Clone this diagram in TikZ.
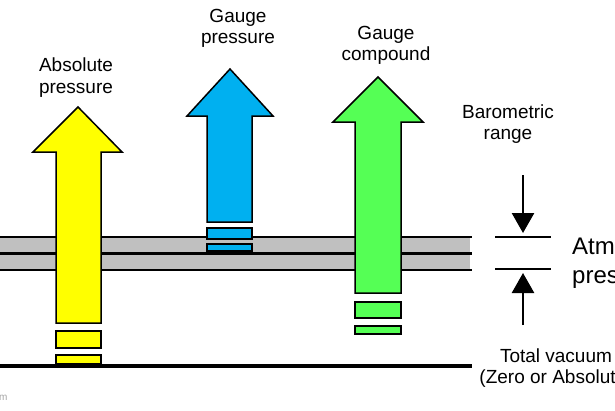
\documentclass[tikz,border=0pt]{standalone}
\usepackage{fontspec}
\setmainfont{Liberation Sans}
\usetikzlibrary{arrows.meta}
\definecolor{ayellow}{RGB}{255,255,0}
\definecolor{ablue}{RGB}{0,176,240}
\definecolor{agreen}{RGB}{85,255,85}
\definecolor{aband}{RGB}{192,192,192}
\tikzset{
  bigarrow/.style={draw=black, line width=1.5pt, line join=miter},
  bandline/.style={line width=2.6pt, black},
  lbl/.style={inner sep=0pt, align=center, font=\fontsize{19}{21.5}\selectfont},
  marker/.style={line width=2.6pt, black},
  rangearrow/.style={line width=2.6pt, -{Triangle[width=22pt,length=20pt]}}
}
\begin{document}
\begin{tikzpicture}[x=1pt,y=-1pt]
\useasboundingbox (0,0) rectangle (615,410);
\clip (0,0) rectangle (615,410);
% atmospheric band
\fill[aband] (0,237) rectangle (470,270);
\coordinate (b1l) at (0,237); \coordinate (b1r) at (472,237);
\coordinate (b2l) at (0,253.5); \coordinate (b2r) at (472,253.5);
\coordinate (b3l) at (0,270); \coordinate (b3r) at (472,270);
\draw[bandline] (b1l) -- (b1r);
\draw[bandline] (b2l) -- (b2r);
\draw[bandline] (b3l) -- (b3r);
% yellow: absolute pressure
\draw[bigarrow, fill=ayellow] (56,323) -- (56,152) -- (33,152) -- (78,107) -- (122,152) -- (101,152) -- (101,323) -- cycle;
\draw[bigarrow, fill=ayellow] (56,331) rectangle (101,348);
\draw[bigarrow, fill=ayellow] (56,355) rectangle (101,364);
% blue: gauge pressure
\draw[bigarrow, fill=ablue] (207,222) -- (207,116) -- (187,116) -- (230,69) -- (273,116) -- (252,116) -- (252,222) -- cycle;
\draw[bigarrow, fill=ablue] (207,228) rectangle (252,239);
\draw[bigarrow, fill=ablue] (207,244) rectangle (252,251);
% green: gauge compound
\draw[bigarrow, fill=agreen] (355,293) -- (355,122) -- (333,122) -- (378,77) -- (423,122) -- (401,122) -- (401,293) -- cycle;
\draw[bigarrow, fill=agreen] (355,302) rectangle (401,318);
\draw[bigarrow, fill=agreen] (355,326) rectangle (401,334);
% total vacuum line
\coordinate (vl) at (0,366); \coordinate (vr) at (472,366);
\draw[line width=4pt] (vl) -- (vr);
% barometric range markers
\coordinate (m1l) at (495,237); \coordinate (m1r) at (551,237);
\coordinate (m2l) at (495,269); \coordinate (m2r) at (551,269);
\draw[marker] (m1l) -- (m1r);
\draw[marker] (m2l) -- (m2r);
\coordinate (dtop) at (523,175); \coordinate (dtip) at (523,233);
\coordinate (ubot) at (523,325); \coordinate (utip) at (523,273);
\draw[rangearrow] (dtop) -- (dtip);
\draw[rangearrow] (ubot) -- (utip);
% labels (base anchor = baseline of last line)
\node[lbl, anchor=base] (labs) at (76,93) {Absolute\\pressure};
\node[lbl, anchor=base] (lgp) at (238,43.5) {Gauge\\pressure};
\node[lbl, anchor=base] (lgc) at (386,60.5) {Gauge\\compound};
\node[lbl, anchor=base] (lbar) at (508,139.5) {Barometric\\range};
\node[inner sep=0pt, align=left, anchor=base west, font=\fontsize{24}{29}\selectfont] (latm) at (572,283) {Atmospheric\\pressure};
\node[lbl, anchor=base] (lvac) at (556,383.5) {Total vacuum\\(Zero or Absolute)};
\node[inner sep=0pt, anchor=base west, text=gray!70, font=\fontsize{10}{11}\selectfont] (wm) at (-1,400) {m};
\end{tikzpicture}
\end{document}
